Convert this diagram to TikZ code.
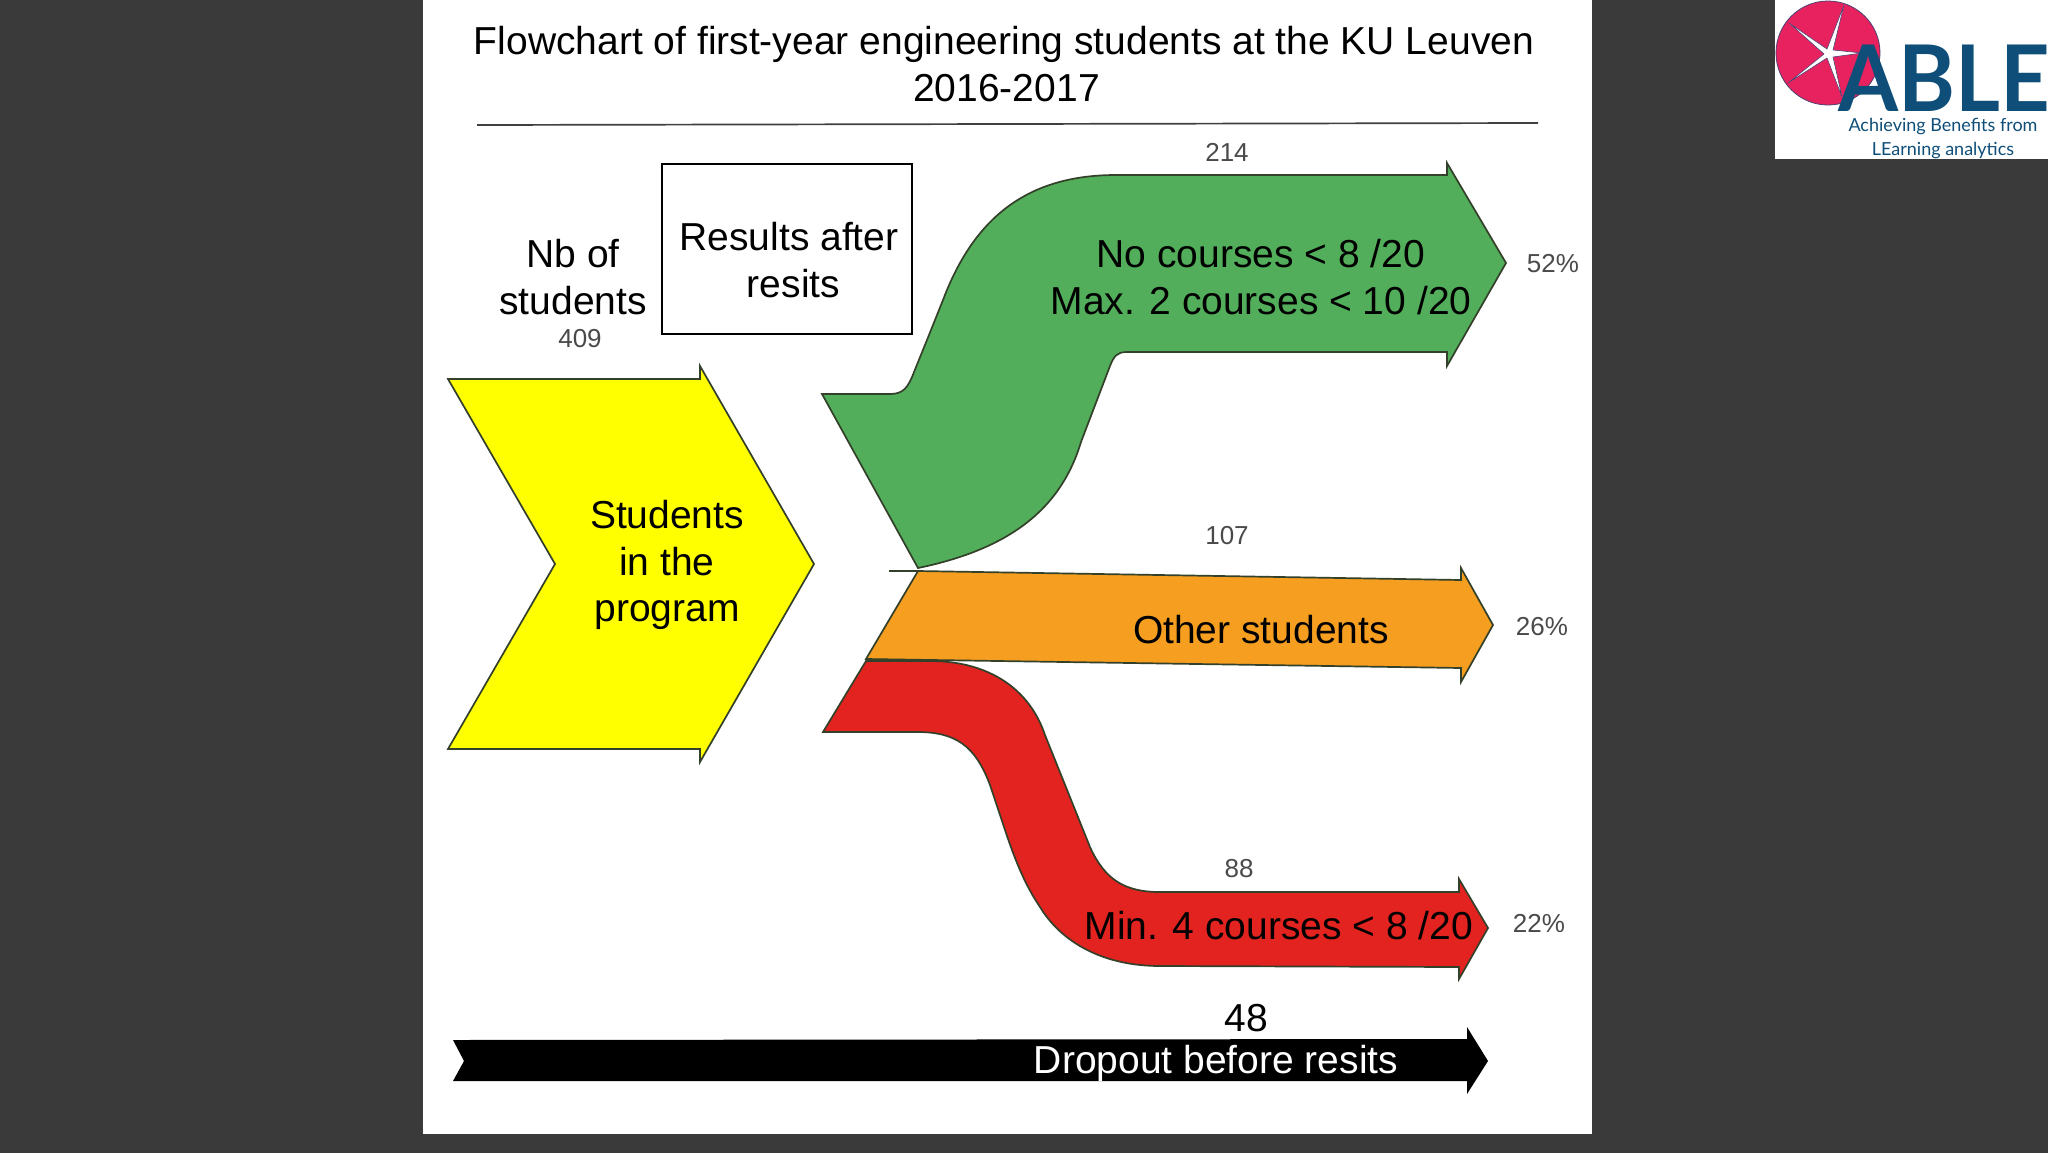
\documentclass[tikz,border=0pt]{standalone}
\usepackage{fontspec}
\setmainfont{Liberation Sans}
\newfontfamily\logofont{Lato}
\definecolor{bgdark}{HTML}{3A3A3A}
\definecolor{ablepink}{HTML}{E8215F}
\definecolor{ableblue}{HTML}{0E4E78}
\definecolor{flowyellow}{HTML}{FFFF00}
\definecolor{flowgreen}{HTML}{52AE5A}
\definecolor{floworange}{HTML}{F59E20}
\definecolor{flowred}{HTML}{E2231F}
\definecolor{flowedge}{HTML}{33402A}
\definecolor{smallgrey}{HTML}{4A4A4A}
\tikzset{
  flow/.style={draw=flowedge,line width=1.7pt,line join=miter},
  big/.style={font=\fontsize{39}{46.5}\selectfont,align=center,inner sep=0pt,text=black},
  small/.style={font=\fontsize{26}{30}\selectfont,inner sep=0pt,text=smallgrey},
  ray/.style={fill=white,draw=ableblue!70!ablepink,line width=.6pt,line join=round},
}
\begin{document}
\begin{tikzpicture}[x=1pt,y=-1pt]
\useasboundingbox (0,0) rectangle (2048,1152);
\fill[bgdark] (-3,-3) rectangle (2051,1155);
\fill[white] (423,-3) rectangle (1592,1134);
\fill[white] (1775,-3) rectangle (2051,159);
% logo
\fill[ablepink,draw=ableblue!70!ablepink,line width=.8pt] (1828,53) circle (52);
\draw[ray] (1789,23) -- (1827,49) -- (1844,5) -- (1833,50) -- (1862,53) -- (1833,57) -- (1842,97) -- (1827,58) -- (1788,83) -- (1824,54) -- cycle;
\node[inner sep=0pt,anchor=base west,text=ableblue,font=\logofont\bfseries\fontsize{92}{92}\selectfont,xscale=.94,transform shape] (ablename) at (1838,111) {ABLE};
\node[inner sep=0pt,text=ableblue,font=\logofont\fontsize{18}{24}\selectfont] (ablesub1) at (1943,127) {Achieving Benefits from};
\node[inner sep=0pt,text=ableblue,font=\logofont\fontsize{18}{24}\selectfont] (ablesub2) at (1943,151) {LEarning analytics};
% title
\node[big] (title) at (1004,64) {Flowchart of first-year engineering students at the KU Leuven\\\hspace*{5pt}2016-2017};
\draw[black!75,line width=1.7pt] (477,125) -- (1538,123);
% header
\node[draw=black,line width=1.8pt,minimum width=250pt,minimum height=170pt,inner sep=0pt] (resultsbox) at (787,249) {};
\node[big] (resultstext) at (789,260) {Results after\\\hspace*{9pt}resits};
\node[big] (nbof) at (573,277) {Nb of\\students};
\node[small] (n409) at (580,339) {409};
% yellow
\draw[flow,fill=flowyellow] (448,379) -- (700,379) -- (700,366) -- (814,564) -- (700,762) -- (700,749) -- (448,749) -- (555,564) -- cycle;
\node[big] (prog) at (667,565) {Students\\in the\\program};
% green
\draw[flow,fill=flowgreen] (822,394) -- (890,394) .. controls (903,394) and (908,388) .. (914,372) .. controls (925,345) and (933,325) .. (943,300) .. controls (975,215) and (1030,175) .. (1116,175) -- (1447,175) -- (1447,163) -- (1506,263) -- (1447,366) -- (1447,352) -- (1127,352) .. controls (1117,352) and (1114,356) .. (1110,366) -- (1081,442) .. controls (1062,505) and (1015,548) .. (918,568) -- cycle;
\node[big] (greentext) at (1261,277) {No courses < 8 /20\\Max. 2 courses < 10 /20};
\node[small] (n214) at (1227,152) {214};
\node[small] (p52) at (1553,264) {52\%};
% orange
\draw[flow,fill=floworange] (918,571) -- (1461,580) -- (1461,568) -- (1493,625) -- (1461,682) -- (1461,668) -- (866,659) -- cycle;
\draw[flow] (889,571) -- (918,571);
\node[big] (orangetext) at (1261,630) {Other students};
\node[small] (n107) at (1227,536) {107};
\node[small] (p26) at (1542,627) {26\%};
% red
\draw[flow,fill=flowred] (866,661) -- (930,661) .. controls (990,661) and (1030,690) .. (1045,735) -- (1090,847) .. controls (1105,880) and (1125,892) .. (1160,892) -- (1459,892) -- (1459,879) -- (1488,928) -- (1459,979) -- (1459,967) -- (1160,966) .. controls (1100,966) and (1060,940) .. (1040,907) .. controls (1025,885) and (1015,860) .. (1005,830) -- (990,785) .. controls (975,745) and (955,732) .. (917,732) -- (823,732) -- cycle;
\node[big] (redtext) at (1279,926) {Min. 4 courses < 8 /20};
\node[small] (n88) at (1239,869) {88};
\node[small] (p22) at (1539,923) {22\%};
% black
\fill[black] (453,1040) -- (1467,1039) -- (1467,1027) -- (1488,1061) -- (1467,1094) -- (1467,1081) -- (453,1081) -- (464,1061) -- cycle;
\node[big] (n48) at (1246,1018) {48};
\node[big,text=white] (droptext) at (1216,1063) {Dropout before resits};
\end{tikzpicture}
\end{document}
